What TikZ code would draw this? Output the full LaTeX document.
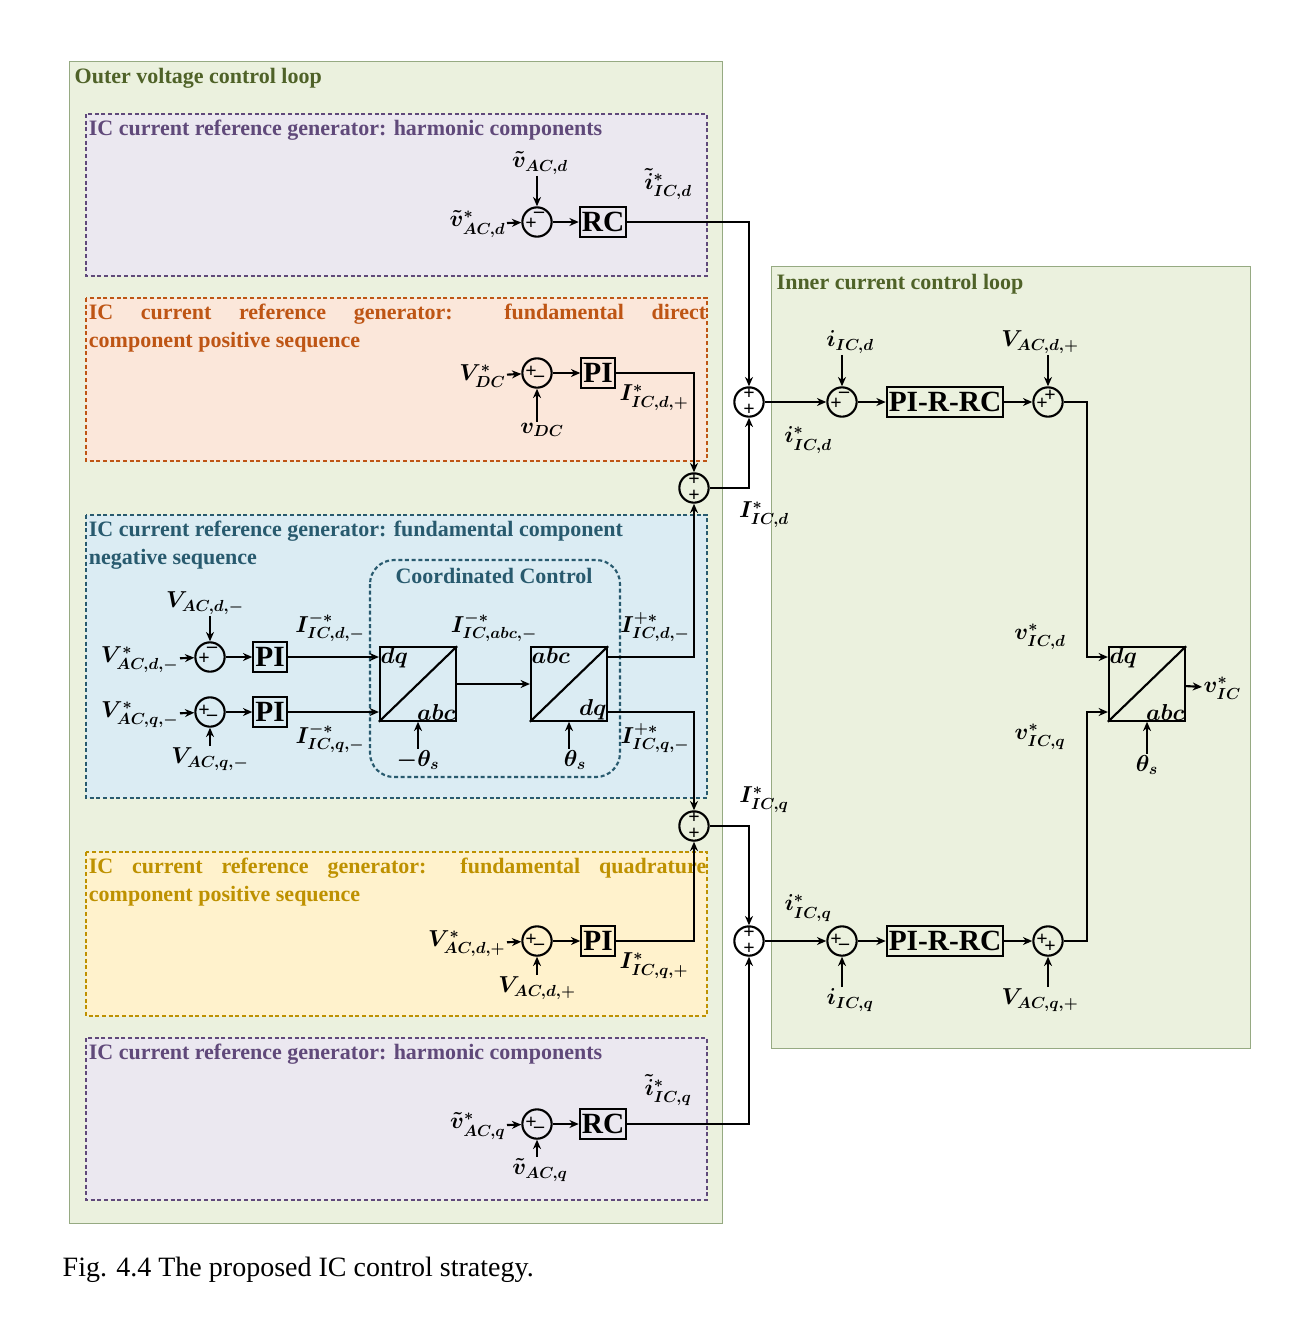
\documentclass[tikz,border=0pt]{standalone}
\usepackage{fontspec}
\setmainfont{Liberation Serif}
\usepackage{amsmath,bm}
\usetikzlibrary{arrows.meta, positioning}
\definecolor{outergreen}{RGB}{235,241,222}
\definecolor{outerline}{RGB}{150,170,130}
\definecolor{harmfill}{RGB}{235,232,240}
\definecolor{harmline}{RGB}{96,73,122}
\definecolor{dirfill}{RGB}{251,231,218}
\definecolor{dirline}{RGB}{190,85,20}
\definecolor{negfill}{RGB}{219,236,243}
\definecolor{negline}{RGB}{40,90,110}
\definecolor{quadfill}{RGB}{255,242,204}
\definecolor{quadline}{RGB}{190,145,0}
\definecolor{titlegreen}{RGB}{79,98,40}

\tikzset{
  sum/.style={circle, draw, line width=1.6pt, minimum size=22pt, inner sep=0pt},
  blk/.style={rectangle, draw, line width=1.6pt, minimum height=23pt, inner sep=1.5pt, font=\fontsize{22}{24}\selectfont\bfseries},
  conv/.style={rectangle, draw, line width=1.6pt, minimum width=57pt, minimum height=55pt},
  sig/.style={line width=1.6pt, -{Stealth[length=7pt,width=6pt]}},
  wire/.style={line width=1.6pt},
  lbl/.style={font=\fontsize{18}{20}\selectfont\boldmath, inner sep=1pt},
  sg/.style={font=\fontsize{15}{15}\selectfont\bfseries, inner sep=0pt},
  genbox/.style={line width=1.6pt, dash pattern=on 3pt off 2pt, rectangle},
  gtitle/.style={anchor=north west, font=\fontsize{16.5}{21}\selectfont\bfseries, inner sep=2pt, text width=463pt, align=justify}
}

\begin{document}
\begin{tikzpicture}[x=0.75pt,y=-0.75pt]
\useasboundingbox (0,0) rectangle (1296,1336);

% loop boxes
\draw[outerline, fill=outergreen] (69,61) rectangle (722,1223);
\draw[outerline, fill=outergreen] (771,266) rectangle (1250,1048);
\node[anchor=north west, font=\fontsize{16.5}{18}\selectfont\bfseries, text=titlegreen] at (70,64) {Outer voltage control loop};
\node[anchor=north west, font=\fontsize{16.5}{18}\selectfont\bfseries, text=titlegreen] at (772,270) {Inner current control loop};

% generator boxes
\draw[genbox, draw=harmline, fill=harmfill] (86,114) rectangle (707,276);
\node[gtitle, text=harmline] at (86,117) {IC current reference generator: harmonic components};
\draw[genbox, draw=dirline, fill=dirfill] (86,298) rectangle (707,461);
\node[gtitle, text=dirline] at (86,301) {IC current reference generator: fundamental direct\linebreak component positive sequence};
\draw[genbox, draw=negline, fill=negfill] (86,515) rectangle (707,798);
\node[gtitle, text=negline] at (86,518) {IC current reference generator: fundamental component\newline negative sequence};
\draw[genbox, draw=quadline, fill=quadfill] (86,852) rectangle (707,1016);
\node[gtitle, text=quadline] at (86,855) {IC current reference generator: fundamental quadrature\linebreak component positive sequence};
\draw[genbox, draw=harmline, fill=harmfill] (86,1038) rectangle (707,1200);
\node[gtitle, text=harmline] at (86,1041) {IC current reference generator: harmonic components};
\draw[genbox, draw=negline, rounded corners=18pt] (370,560) rectangle (620,777);
\node[font=\fontsize{16.5}{18}\selectfont\bfseries, text=negline] at (494,576) {Coordinated Control};

% harmonic d
\node[sum] (s1) at (537,222) {};
\node[sg] at ([shift={(-6,2)}]s1.center) {+};
\node[sg] at ([shift={(2,-7)}]s1.center) {--};
\node[blk] (rc1) at (603,222) {RC};
\node[lbl] (vtd) at (540,163) {$\tilde{v}_{AC,d}$};
\node[lbl, anchor=east] (vtsd) at (507,224) {$\tilde{v}^{*}_{AC,d}$};
\node[lbl] at (668,184) {$\tilde{i}^{*}_{IC,d}$};
\draw[sig] (vtd.south -| s1) -- (s1);
\draw[sig] (vtsd) -- (s1);
\draw[sig] (s1) -- (rc1);

% direct positive
\node[sum] (s2) at (537,373) {};
\node[sg] at ([shift={(-6,-1)}]s2.center) {+};
\node[sg] at ([shift={(2,6)}]s2.center) {--};
\node[blk] (pi1) at (598,373) {PI};
\node[lbl, anchor=east] (vdcs) at (507,376) {$V^{*}_{DC}$};
\node[lbl] (vdc) at (542,430) {$v_{DC}$};
\node[lbl] at (654,398) {$I^{*}_{IC,d,+}$};
\draw[sig] (vdcs) -- (s2);
\draw[sig] (vdc.north -| s2) -- (s2);
\draw[sig] (s2) -- (pi1);

% negative sequence
\node[sum] (s3) at (210,657) {};
\node[sg] at ([shift={(-6,2)}]s3.center) {+};
\node[sg] at ([shift={(2,-7)}]s3.center) {--};
\node[sum] (s4) at (210,712) {};
\node[sg] at ([shift={(-6,-1)}]s4.center) {+};
\node[sg] at ([shift={(2,6)}]s4.center) {--};
\node[blk] (pi2) at (270,657) {PI};
\node[blk] (pi3) at (270,712) {PI};
\node[lbl] (vdm) at (205,603) {$V_{AC,d,-}$};
\node[lbl, anchor=east] (vdms) at (180,660) {$V^{*}_{AC,d,-}$};
\node[lbl, anchor=east] (vqms) at (180,715) {$V^{*}_{AC,q,-}$};
\node[lbl] (vqm) at (210,759) {$V_{AC,q,-}$};
\draw[sig] (vdm.south -| s3) -- (s3);
\draw[sig] (vdms) -- (s3);
\draw[sig] (vqms) -- (s4);
\draw[sig] (vqm.north -| s4) -- (s4);
\draw[sig] (s3) -- (pi2);
\draw[sig] (s4) -- (pi3);
\node[conv] (c1) at (418,684) {};
\draw[wire] (c1.south west) -- (c1.north east);
\node[lbl, anchor=north west] at (c1.north west) {$dq$};
\node[lbl, anchor=south east] at (c1.south east) {$abc$};
\node[conv] (c2) at (569,684) {};
\draw[wire] (c2.south west) -- (c2.north east);
\node[lbl, anchor=north west] at (c2.north west) {$abc$};
\node[lbl, anchor=south east] at (c2.south east) {$dq$};
\draw[sig] (pi2) -- (pi2 -| c1.west);
\draw[sig] (pi3) -- (pi3 -| c1.west);
\draw[sig] (c1) -- (c2);
\node[lbl] at (330,627) {$I^{-*}_{IC,d,-}$};
\node[lbl] at (330,738) {$I^{-*}_{IC,q,-}$};
\node[lbl] at (494,627) {$I^{-*}_{IC,abc,-}$};
\node[lbl] (th1) at (418,760) {$-\theta_s$};
\node[lbl] (th2) at (575,760) {$\theta_s$};
\draw[sig] (th1.north -| c1) -- (c1);
\draw[sig] (th2.north -| c2) -- (c2);
\node[lbl] at (655,627) {$I^{+*}_{IC,d,-}$};
\node[lbl] at (655,738) {$I^{+*}_{IC,q,-}$};

% quadrature positive
\node[sum] (s5) at (537,941) {};
\node[sg] at ([shift={(-6,-1)}]s5.center) {+};
\node[sg] at ([shift={(2,6)}]s5.center) {--};
\node[blk] (pi4) at (598,941) {PI};
\node[lbl, anchor=east] (vdps) at (507,944) {$V^{*}_{AC,d,+}$};
\node[lbl] (vdp) at (537,988) {$V_{AC,d,+}$};
\node[lbl] at (654,966) {$I^{*}_{IC,q,+}$};
\draw[sig] (vdps) -- (s5);
\draw[sig] (vdp.north -| s5) -- (s5);
\draw[sig] (s5) -- (pi4);

% harmonic q
\node[sum] (s6) at (537,1124) {};
\node[sg] at ([shift={(-6,-1)}]s6.center) {+};
\node[sg] at ([shift={(2,6)}]s6.center) {--};
\node[blk] (rc2) at (603,1124) {RC};
\node[lbl, anchor=east] (vtsq) at (507,1126) {$\tilde{v}^{*}_{AC,q}$};
\node[lbl] (vtq) at (540,1170) {$\tilde{v}_{AC,q}$};
\node[lbl] at (668,1090) {$\tilde{i}^{*}_{IC,q}$};
\draw[sig] (vtsq) -- (s6);
\draw[sig] (vtq.north -| s6) -- (s6);
\draw[sig] (s6) -- (rc2);

% junctions
\foreach \n/\x/\y in {jdp/694/488, jd/749/402, jqp/694/826, jq/749/941}{
  \node[sum] (\n) at (\x,\y) {};
  \node[sg] at ([yshift=-6]\n.center) {+};
  \node[sg] at ([yshift=6]\n.center) {+};
}
\draw[sig] (rc1) -| (jd);
\draw[sig] (pi1) -| (jdp);
\draw[sig] (c2.east |- pi2) -| (jdp);
\draw[sig] (jdp) -| (jd);
\draw[sig] (c2.east |- pi3) -| (jqp);
\draw[sig] (pi4) -| (jqp);
\draw[sig] (jqp) -| (jq);
\draw[sig] (rc2) -| (jq);
\node[lbl] at (764,515) {$I^{*}_{IC,d}$};
\node[lbl] at (764,800) {$I^{*}_{IC,q}$};

% inner current loop
\node[sum] (e1) at (842,402) {};
\node[sg] at ([shift={(-6,2)}]e1.center) {+};
\node[sg] at ([shift={(2,-7)}]e1.center) {--};
\node[blk] (pr1) at (945,402) {PI-R-RC};
\node[sum] (f1) at (1048,402) {};
\node[sg] at ([shift={(-6,2)}]f1.center) {+};
\node[sg] at ([shift={(2,-6)}]f1.center) {+};
\node[sum] (e2) at (842,941) {};
\node[sg] at ([shift={(-6,-1)}]e2.center) {+};
\node[sg] at ([shift={(2,6)}]e2.center) {--};
\node[blk] (pr2) at (945,941) {PI-R-RC};
\node[sum] (f2) at (1048,941) {};
\node[sg] at ([shift={(-6,-1)}]f2.center) {+};
\node[sg] at ([shift={(2,6)}]f2.center) {+};
\node[lbl] (icd) at (850,342) {$i_{IC,d}$};
\node[lbl] (vadp) at (1040,342) {$V_{AC,d,+}$};
\node[lbl] (icq) at (850,1000) {$i_{IC,q}$};
\node[lbl] (vaqp) at (1040,1000) {$V_{AC,q,+}$};
\node[lbl] at (808,440) {$i^{*}_{IC,d}$};
\node[lbl] at (808,908) {$i^{*}_{IC,q}$};
\draw[sig] (icd.south -| e1) -- (e1);
\draw[sig] (vadp.south -| f1) -- (f1);
\draw[sig] (icq.north -| e2) -- (e2);
\draw[sig] (vaqp.north -| f2) -- (f2);
\draw[sig] (jd) -- (e1);
\draw[sig] (e1) -- (pr1);
\draw[sig] (pr1) -- (f1);
\draw[sig] (jq) -- (e2);
\draw[sig] (e2) -- (pr2);
\draw[sig] (pr2) -- (f2);
\node[conv] (c3) at (1147,684) {};
\draw[wire] (c3.south west) -- (c3.north east);
\node[lbl, anchor=north west] at (c3.north west) {$dq$};
\node[lbl, anchor=south east] at (c3.south east) {$abc$};
\coordinate (cd) at (1087,657);
\coordinate (cq) at (1087,712);
\draw[sig] (f1) -| (cd) -- (cd -| c3.west);
\draw[sig] (f2) -| (cq) -- (cq -| c3.west);
\node[lbl] at (1040,637) {$v^{*}_{IC,d}$};
\node[lbl] at (1040,737) {$v^{*}_{IC,q}$};
\node[lbl, anchor=west] (vic) at (1202,688) {$v^{*}_{IC}$};
\draw[sig] (c3) -- (vic);
\node[lbl] (th3) at (1147,765) {$\theta_s$};
\draw[sig] (th3.north -| c3) -- (c3);

% caption
\node[anchor=west, font=\fontsize{21}{23}\selectfont] at (58,1270) {Fig. 4.4 The proposed IC control strategy.};
\end{tikzpicture}
\end{document}
